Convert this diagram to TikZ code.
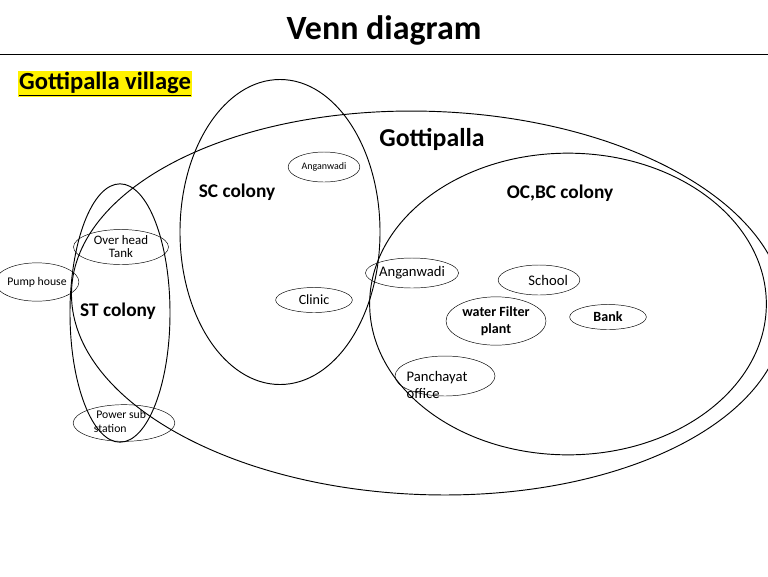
\documentclass[tikz,border=0pt]{standalone}
\usepackage{fontspec}
\setmainfont{Carlito}
\usetikzlibrary{shapes.geometric}
\tikzstyle{region} = [ellipse, draw=black, thick, inner sep=0pt]
\tikzstyle{place} = [ellipse, draw=black, thin, inner sep=0pt, align=center, font=\fontsize{11}{11}\selectfont]
\tikzstyle{regionLabel} = [font=\bfseries\fontsize{16.5}{16.5}\selectfont]
\begin{document}
\begin{tikzpicture}[x=0.03cm,y=-0.03cm]
\useasboundingbox (0,0) rectangle (768,576);

\node (title) at (384,30) {\bfseries\fontsize{29}{29}\selectfont Venn diagram};
\coordinate (ruleL) at (0,54);
\coordinate (ruleR) at (768,54);
\draw [thick] (ruleL) -- (ruleR);
\node (village) [fill=yellow, inner sep=1pt] at (105,84) {\bfseries\fontsize{21}{21}\selectfont\underline{Gottipalla village}};

% regions
\node (gottipalla) [region, minimum width=21.4cm, minimum height=11.5cm, rotate=-2] at (428,303) {};
\node (oc) [region, minimum width=11.9cm, minimum height=9.05cm] at (568,304) {};
\node (sc) [region, minimum width=6cm, minimum height=9.15cm] at (280,232) {};
\node (st) [region, minimum width=3cm, minimum height=7.75cm] at (120,313) {};

\node (gottiLabel) [font=\bfseries\fontsize{22}{22}\selectfont] at (432,139) {Gottipalla};
\node (ocLabel) [regionLabel] at (560,193) {OC,BC colony};
\node (scLabel) [regionLabel] at (237,192) {SC colony};
\node (stLabel) [regionLabel] at (118,311) {ST colony};

% places
\node (anganSC) [place, minimum width=2.15cm, minimum height=0.9cm, font=\fontsize{8.5}{8.5}\selectfont] at (324,167) {Anganwadi};
\node (tank) [place, minimum width=2.85cm, minimum height=1.05cm] at (121,247) {Over head\\Tank};
\node (pump) [place, minimum width=2.2cm, minimum height=1.15cm, font=\fontsize{10}{10}\selectfont] at (37,282) {Pump house};
\node (clinic) [place, minimum width=2.3cm, minimum height=0.75cm, font=\fontsize{12}{12}\selectfont] at (314,300) {Clinic};
\node (anganOC) [place, minimum width=2.55cm, minimum height=0.9cm, font=\fontsize{12.5}{12.5}\selectfont] at (412,273) {Anganwadi};
\node (school) [place, minimum width=1.9cm, minimum height=0.9cm, font=\fontsize{12.5}{12.5}\selectfont] at (539,280) {\hspace{0.55cm}School};
\node (filter) [place, minimum width=3cm, minimum height=1.45cm, font=\bfseries\fontsize{12}{14}\selectfont] at (496,321) {water Filter\\plant};
\node (bank) [place, minimum width=2.3cm, minimum height=0.75cm, font=\bfseries\fontsize{12}{12}\selectfont] at (608,317) {Bank};
\node (panch) [place, minimum width=3cm, minimum height=1.2cm] at (445,376) {};
\node (panchText) [font=\fontsize{12.5}{15}\selectfont, align=left] at (437,385) {Panchayat\\office};
\node (power) [place, minimum width=3.05cm, minimum height=1.1cm] at (124,423) {};
\node (powerText) [font=\fontsize{10}{12}\selectfont, align=left] at (120,421) {\hspace{2pt}Power sub\\station};
\end{tikzpicture}
\end{document}
